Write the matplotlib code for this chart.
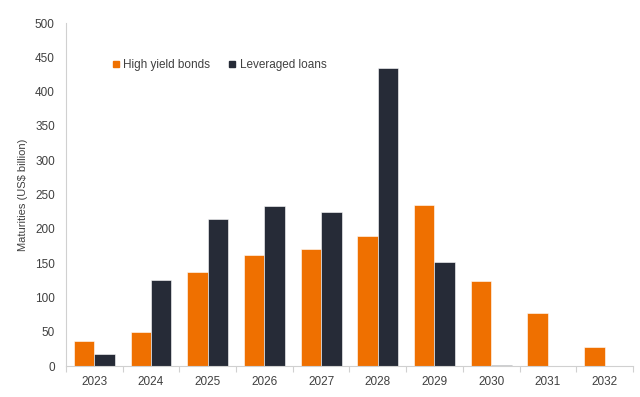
import numpy as np
import matplotlib
matplotlib.use("Agg")
import matplotlib.pyplot as plt
from matplotlib.lines import Line2D

plt.rcParams['font.family'] = ['Liberation Sans', 'DejaVu Sans']

years = ['2023', '2024', '2025', '2026', '2027', '2028', '2029', '2030', '2031', '2032']
high_yield = [36, 49, 137, 162, 171, 189, 235, 124, 77, 28]
lev_loans = [17, 125, 214, 234, 224, 434, 152, 1, 0, 0]

orange = '#EF7000'
navy = '#262B37'
grey_txt = '#404040'

fig = plt.figure(figsize=(6.4, 3.97), dpi=100)
ax = fig.add_axes([0.103, 0.078, 0.886, 0.864])

x = np.arange(len(years))
w = 0.36
ax.bar(x - w / 2, high_yield, w, color=orange, edgecolor='white', linewidth=0.4)
ax.bar(x + w / 2, lev_loans, w, color=navy, edgecolor='white', linewidth=0.4)

ax.set_xlim(-0.5, len(years) - 0.5)
ax.set_ylim(0, 500)
ax.set_yticks(range(0, 501, 50))
ax.set_xticks(x)
ax.set_xticklabels(years)
ax.set_xticks(np.arange(-0.5, len(years)), minor=True)
ax.tick_params(axis='x', which='major', length=0, pad=7, labelsize=8.5, labelcolor=grey_txt)
ax.tick_params(axis='x', which='minor', length=4, color='#d0d0d0', width=0.8)
ax.tick_params(axis='y', length=0, pad=8, labelsize=8.5, labelcolor=grey_txt)

for s in ['top', 'right']:
    ax.spines[s].set_visible(False)
for s in ['left', 'bottom']:
    ax.spines[s].set_color('#d0d0d0')
    ax.spines[s].set_linewidth(0.8)

ax.set_ylabel('Maturities (US$ billion)', fontsize=8, color=grey_txt, labelpad=5)

handles = [
    Line2D([], [], marker='s', linestyle='none', color=orange, markersize=5),
    Line2D([], [], marker='s', linestyle='none', color=navy, markersize=5),
]
fig.legend(handles, ['High yield bonds', 'Leveraged loans'], loc='center left',
           bbox_to_anchor=(0.159, 0.837), ncol=2, frameon=False, fontsize=8.5,
           handlelength=0.6, handletextpad=0.3, columnspacing=1.6,
           labelcolor=grey_txt)

fig.savefig('out.png', dpi=100)
